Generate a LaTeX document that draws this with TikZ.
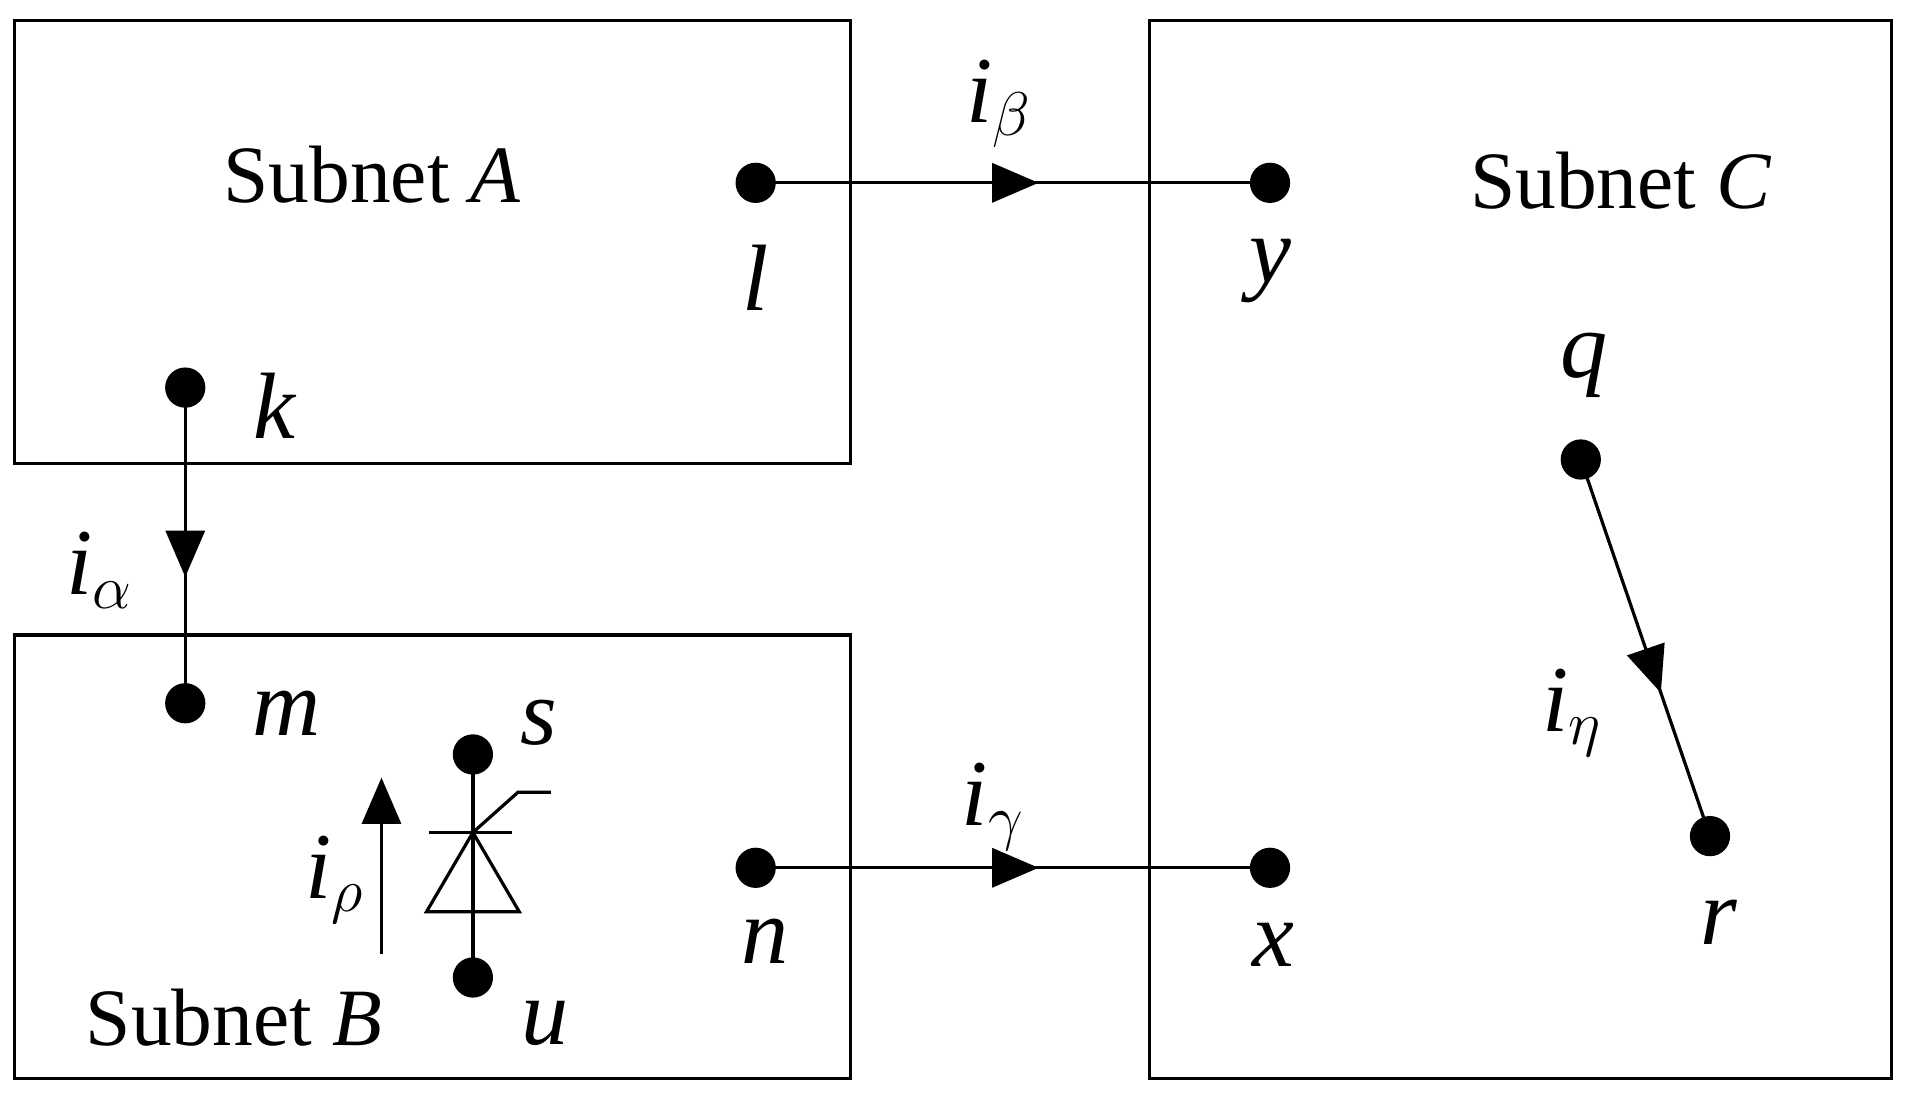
\documentclass[tikz,border=0pt]{standalone}
\usepackage{fontspec}
\setmainfont{Liberation Serif}
\usetikzlibrary{arrows.meta,decorations.markings}
\begin{document}
\begin{tikzpicture}[x=0.01cm,y=-0.01cm,line width=0.75pt,
  box/.style={draw},
  dot/.style={circle,fill,inner sep=0pt,minimum size=0.33cm},
  lab/.style={font=\fontsize{22}{24}\selectfont\itshape,inner sep=0pt},
  sub/.style={font=\fontsize{19}{22}\selectfont,inner sep=0pt},
  cur/.style={font=\fontsize{22}{24}\selectfont,inner sep=0pt},
  midarrow/.style={postaction={decorate},decoration={markings,mark=at position #1 with {\arrow{Triangle[length=0.38cm,width=0.32cm]}}}}]
\useasboundingbox (0,0) rectangle (1563,897);
\draw[box] (12,17) rectangle (698,380);
\draw[box] (12,521) rectangle (698,885);
\draw[box] (943,17) rectangle (1552,885);
\node[dot] (l) at (620,150) {};
\node[dot] (y) at (1042,150) {};
\node[dot] (k) at (152,318) {};
\node[dot] (m) at (152,577) {};
\node[dot] (s) at (388,619) {};
\node[dot] (u) at (388,802) {};
\node[dot] (n) at (620,712) {};
\node[dot] (x) at (1042,712) {};
\node[dot] (q) at (1297,377) {};
\node[dot] (r) at (1403,686) {};
\node[sub] (sa) at (305,143) {Subnet \textit{A}};
\node[sub] (sb) at (192,835) {Subnet \textit{B}};
\node[sub] (sc) at (1330,148) {Subnet \textit{C}};
\node[lab] (ll) at (620,228) {l};
\node[lab] (ly) at (1042,222) {y};
\node[lab] (lk) at (225,333) {k};
\node[lab] (lm) at (235,585) {m};
\node[lab] (ls) at (442,593) {s};
\node[lab] (lu) at (447,840) {u};
\node[lab] (ln) at (628,772) {n};
\node[lab] (lx) at (1045,775) {x};
\node[lab] (lq) at (1300,300) {q};
\node[lab] (lr) at (1410,757) {r};
\node[cur] (ib) at (820,85) {\textit{i}$_{\scriptstyle\beta}$};
\node[cur] (ia) at (82,468) {\textit{i}$_{\scriptstyle\alpha}$};
\node[cur] (ig) at (815,662) {\textit{i}$_{\scriptstyle\gamma}$};
\node[cur] (ie) at (1290,585) {\textit{i}$_{\scriptstyle\eta}$};
\node[cur] (ir) at (275,722) {\textit{i}$_{\scriptstyle\rho}$};
\draw[midarrow=0.55] (l.center) -- (y.center);
\draw[midarrow=0.55] (n.center) -- (x.center);
\draw[midarrow=0.6] (k.center) -- (m.center);
\draw[midarrow=0.62] (q.center) -- (r.center);
\coordinate (ra) at (313,783);
\coordinate (rb) at (313,638);
\draw[-{Triangle[length=0.38cm,width=0.32cm]}] (ra) -- (rb);
% zener diode
\draw (s.center) -- (u.center);
\draw (388,683) -- (350,748) -- (426,748) -- cycle;
\draw (352,683) -- (420,683);
\draw (388,683) -- (425,650) -- (452,650);
\end{tikzpicture}
\end{document}
